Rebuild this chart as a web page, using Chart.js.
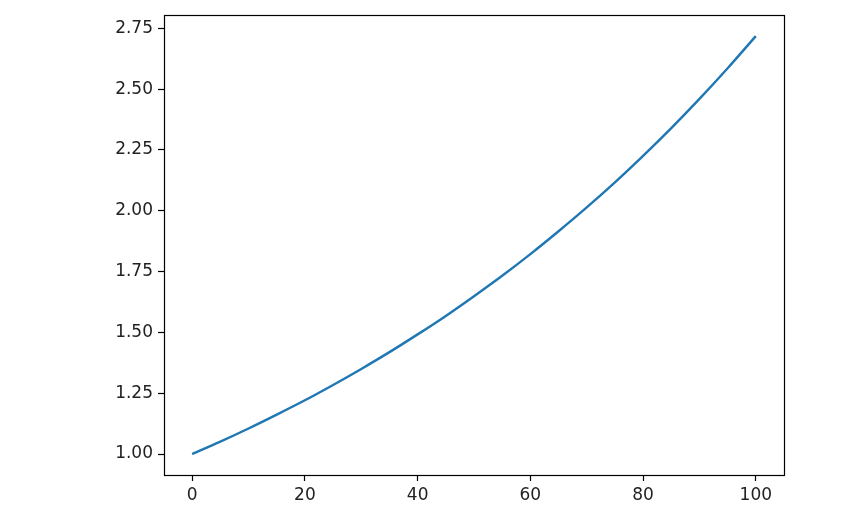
<!DOCTYPE html>
<html>
<head>
<meta charset="utf-8">
<script src="https://cdn.jsdelivr.net/npm/chart.js@4/dist/chart.umd.min.js"></script>
<style>
html,body{margin:0;padding:0;background:#fff;}
#wrap{width:844px;height:527px;position:relative;}
</style>
</head>
<body>
<div id="wrap"><canvas id="c" width="844" height="527"></canvas></div>
<script>
const xValues = [0,5,10,15,20,25,30,35,40,45,50,55,60,65,70,75,80,85,90,95,100];
const yValues = [1.000,1.051,1.105,1.162,1.221,1.284,1.350,1.419,1.492,1.568,1.649,1.733,1.822,1.916,2.014,2.117,2.226,2.340,2.460,2.586,2.718];
const xTicks = [0,20,40,60,80,100];
const yTicks = [1.00,1.25,1.50,1.75,2.00,2.25,2.50,2.75];
const xRange = [-5,105];
const yRange = [0.914,2.804];

const boxPlugin = {
  id:'box',
  afterDraw(chart){
    const a = chart.chartArea, ctx = chart.ctx;
    ctx.save();
    ctx.strokeStyle = '#000';
    ctx.lineWidth = 1.2;
    ctx.strokeRect(Math.round(a.left)+0.5, Math.round(a.top)+0.5, Math.round(a.right-a.left), Math.round(a.bottom-a.top));
    ctx.restore();
  }
};

Chart.defaults.font.family = 'DejaVu Sans';
Chart.defaults.font.size = 17;
Chart.defaults.color = '#222';

new Chart(document.getElementById('c'), {
  type:'line',
  data:{
    datasets:[{
      data: xValues.map((x,i)=>({x:x,y:yValues[i]})),
      borderColor:'#1f77b4',
      borderWidth:2.4,
      pointRadius:0,
      tension:0.4,
      cubicInterpolationMode:'monotone',
      fill:false
    }]
  },
  options:{
    responsive:false,
    animation:false,
    devicePixelRatio:1,
    layout:{padding:{left:0,top:14,right:60,bottom:0}},
    plugins:{legend:{display:false},tooltip:{enabled:false}},
    scales:{
      x:{
        type:'linear',
        min:xRange[0],max:xRange[1],
        afterBuildTicks:s=>{s.ticks = xTicks.map(v=>({value:v}));},
        afterFit:s=>{s.height = 52;},
        border:{display:false},
        grid:{drawOnChartArea:false,tickLength:6,tickColor:'#000',tickWidth:1.2},
        ticks:{padding:4,maxRotation:0,callback:v=>String(v)}
      },
      y:{
        type:'linear',
        min:yRange[0],max:yRange[1],
        afterBuildTicks:s=>{s.ticks = yTicks.map(v=>({value:v}));},
        afterFit:s=>{s.width = 164;},
        border:{display:false},
        grid:{drawOnChartArea:false,tickLength:6,tickColor:'#000',tickWidth:1.2},
        ticks:{padding:5,callback:v=>Number(v).toFixed(2)}
      }
    }
  },
  plugins:[boxPlugin]
});
</script>
</body>
</html>
